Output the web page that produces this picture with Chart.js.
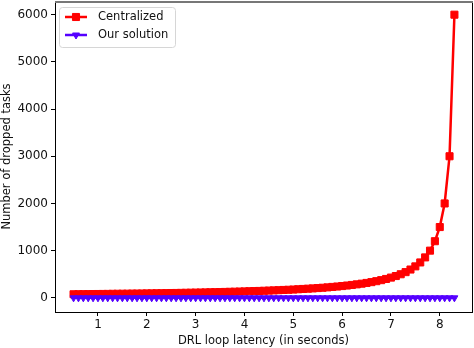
<!DOCTYPE html>
<html>
<head>
<meta charset="utf-8">
<script src="https://cdn.jsdelivr.net/npm/chart.js@4.4.1/dist/chart.umd.min.js"></script>
<style>
  html, body { margin: 0; padding: 0; background: #fff; }
  #wrap { width: 474px; height: 348px; }
</style>
</head>
<body>
<div id="wrap"><canvas id="chart" width="474" height="348"></canvas></div>
<script>
// latency of the DRL loop, seconds
const latency = [
  0.5, 0.6, 0.7, 0.8, 0.9, 1.0, 1.1, 1.2, 1.3, 1.4, 1.5, 1.6, 1.7, 1.8, 1.9,
  2.0, 2.1, 2.2, 2.3, 2.4, 2.5, 2.6, 2.7, 2.8, 2.9, 3.0, 3.1, 3.2, 3.3, 3.4,
  3.5, 3.6, 3.7, 3.8, 3.9, 4.0, 4.1, 4.2, 4.3, 4.4, 4.5, 4.6, 4.7, 4.8, 4.9,
  5.0, 5.1, 5.2, 5.3, 5.4, 5.5, 5.6, 5.7, 5.8, 5.9, 6.0, 6.1, 6.2, 6.3, 6.4,
  6.5, 6.6, 6.7, 6.8, 6.9, 7.0, 7.1, 7.2, 7.3, 7.4, 7.5, 7.6, 7.7, 7.8, 7.9,
  8.0, 8.1, 8.2, 8.3
];

const centralized = [
  76, 77, 78, 79, 80, 81, 82, 83, 85, 86, 87, 88, 90, 91, 92,
  94, 95, 97, 98, 100, 102, 103, 105, 107, 109, 111, 113, 115, 118, 120,
  122, 125, 128, 130, 133, 136, 140, 143, 146, 150, 154, 158, 162, 167, 171,
  176, 182, 188, 194, 200, 207, 214, 222, 231, 240, 250, 261, 273, 286, 300,
  316, 333, 353, 375, 400, 429, 462, 500, 545, 600, 667, 750, 857, 1000, 1200,
  1500, 2000, 3000, 6000
];

const ourSolution = [
  0, 0, 0, 0, 0, 0, 0, 0, 0, 0, 0, 0, 0, 0, 0,
  0, 0, 0, 0, 0, 0, 0, 0, 0, 0, 0, 0, 0, 0, 0,
  0, 0, 0, 0, 0, 0, 0, 0, 0, 0, 0, 0, 0, 0, 0,
  0, 0, 0, 0, 0, 0, 0, 0, 0, 0, 0, 0, 0, 0, 0,
  0, 0, 0, 0, 0, 0, 0, 0, 0, 0, 0, 0, 0, 0, 0,
  0, 0, 0, 0
];

const xTickValues = [1, 2, 3, 4, 5, 6, 7, 8];
const yTickValues = [0, 1000, 2000, 3000, 4000, 5000, 6000];

const FONT = 'DejaVu Sans';
const RED = '#ff0000';
const BLUE = '#5500ff';

function toPoints(ys) {
  return latency.map((x, i) => ({ x: x, y: ys[i] }));
}

// box around the plot plus a matplotlib style legend in the upper left
const framePlugin = {
  id: 'frame',
  afterDatasetsDraw(chart) {
    const ctx = chart.ctx;
    const a = chart.chartArea;
    ctx.save();
    ctx.strokeStyle = '#000';
    ctx.lineWidth = 1;
    ctx.beginPath();
    ctx.moveTo(a.right + 0.5, a.top);
    ctx.lineTo(a.right + 0.5, a.bottom);
    ctx.stroke();
    ctx.strokeStyle = '#777';
    ctx.lineWidth = 2;
    ctx.beginPath();
    ctx.moveTo(a.left, a.top + 1);
    ctx.lineTo(a.right + 1, a.top + 1);
    ctx.stroke();

    // legend
    const bx = a.left + 4, by = a.top + 6, bw = 116, bh = 40;
    ctx.fillStyle = 'rgba(255,255,255,0.8)';
    ctx.strokeStyle = '#d6d6d6';
    ctx.lineWidth = 1;
    ctx.beginPath();
    ctx.roundRect(bx + 0.5, by + 0.5, bw, bh, 3);
    ctx.fill();
    ctx.stroke();

    chart.data.datasets.forEach((ds, i) => {
      const y = by + 10 + i * 18;
      const x0 = bx + 6, x1 = bx + 28;
      ctx.strokeStyle = ds.borderColor;
      ctx.lineWidth = 2.5;
      ctx.beginPath();
      ctx.moveTo(x0, y);
      ctx.lineTo(x1, y);
      ctx.stroke();
      ctx.fillStyle = ds.backgroundColor;
      ctx.strokeStyle = ds.borderColor;
      ctx.lineWidth = 1;
      Chart.helpers.drawPoint(ctx, {
        pointStyle: ds.pointStyle,
        rotation: ds.pointRotation || 0,
        radius: ds.pointRadius,
        borderWidth: 1
      }, (x0 + x1) / 2, y);
      ctx.fillStyle = '#111';
      ctx.font = '11.5px "' + FONT + '"';
      ctx.textBaseline = 'middle';
      ctx.textAlign = 'left';
      ctx.fillText(ds.label, bx + 39, y + 0.5);
    });
    ctx.restore();
  }
};

new Chart(document.getElementById('chart'), {
  type: 'line',
  data: {
    datasets: [
      {
        label: 'Centralized',
        data: toPoints(centralized),
        borderColor: RED,
        backgroundColor: RED,
        borderWidth: 2.5,
        pointStyle: 'rect',
        pointRadius: 5,
        pointBorderWidth: 1,
        order: 1
      },
      {
        label: 'Our solution',
        data: toPoints(ourSolution),
        borderColor: BLUE,
        backgroundColor: BLUE,
        borderWidth: 2.5,
        pointStyle: 'triangle',
        pointRotation: 180,
        pointRadius: 4,
        pointBorderWidth: 1,
        order: 0
      }
    ]
  },
  options: {
    responsive: false,
    animation: false,
    layout: { autoPadding: false, padding: { top: 1, right: 2, left: 0, bottom: 0 } },
    plugins: {
      legend: { display: false },
      tooltip: { enabled: false }
    },
    scales: {
      x: {
        type: 'linear',
        min: 0.12,
        max: 8.66,
        afterBuildTicks(scale) {
          scale.ticks = xTickValues.map(v => ({ value: v }));
        },
        afterFit(scale) {
          scale.height = 36;
          scale.paddingLeft = 0;
          scale.paddingRight = 0;
        },
        grid: {
          drawOnChartArea: false,
          drawTicks: true,
          tickLength: 4,
          tickColor: '#000'
        },
        border: { display: true, color: '#000', width: 1 },
        ticks: {
          color: '#111',
          font: { family: FONT, size: 12 },
          padding: 2,
          maxRotation: 0,
          autoSkip: false,
          callback: v => String(v)
        },
        title: {
          display: true,
          text: 'DRL loop latency (in seconds)',
          color: '#111',
          font: { family: FONT, size: 11.5 },
          padding: { top: 0, bottom: 0 }
        }
      },
      y: {
        type: 'linear',
        min: -300,
        max: 6290,
        afterBuildTicks(scale) {
          scale.ticks = yTickValues.map(v => ({ value: v }));
        },
        afterFit(scale) {
          scale.width = 55;
          scale.paddingTop = 0;
          scale.paddingBottom = 0;
        },
        grid: {
          drawOnChartArea: false,
          drawTicks: true,
          tickLength: 4,
          tickColor: '#000'
        },
        border: { display: true, color: '#000', width: 1 },
        ticks: {
          color: '#111',
          font: { family: FONT, size: 12 },
          padding: 3,
          autoSkip: false,
          callback: v => String(v)
        },
        title: {
          display: true,
          text: 'Number of dropped tasks',
          color: '#111',
          font: { family: FONT, size: 11.5 },
          padding: { top: 0, bottom: 1 }
        }
      }
    }
  },
  plugins: [framePlugin]
});
</script>
</body>
</html>
